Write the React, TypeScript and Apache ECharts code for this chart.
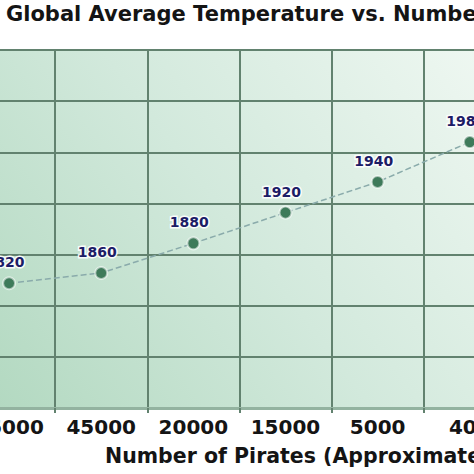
import React, { useEffect, useRef } from "react";
import * as echarts from "echarts";

const titleText = "Global Average Temperature vs. Number of Pirates";
const xAxisTitle = "Number of Pirates (Approximate)";
const pirates = ["35000", "45000", "20000", "15000", "5000", "400", "17"];
const years = ["1820", "1860", "1880", "1920", "1940", "1980", "2000"];
const temps = [14.22, 14.32, 14.61, 14.91, 15.21, 15.6, 15.9];
const yMin = 13;
const yMax = 16.5;
const yStep = 0.5;

const SHIFT = 37; // the visible window starts this far into the chart
const CHART_W = 645;

export default function App() {
  const ref = useRef<HTMLDivElement>(null);
  useEffect(() => {
    if (!ref.current) return;
    const chart = echarts.init(ref.current, null, { renderer: "svg" });
    const font = "DejaVu Sans";
    const gridColor = "#62826f";
    chart.setOption({
      animation: false,
      backgroundColor: "#ffffff",
      title: {
        text: titleText,
        left: SHIFT + 4,
        top: 0,
        padding: [3, 2],
        textStyle: { fontFamily: font, fontSize: 21, fontWeight: "bold", color: "#141414" },
      },
      grid: {
        left: 0,
        right: 0,
        top: 50,
        bottom: 66,
        show: true,
        borderWidth: 0,
        backgroundColor: new echarts.graphic.LinearGradient(SHIFT, 408, SHIFT + 474, 50, [
          { offset: 0, color: "#b3d9c1" },
          { offset: 0.5, color: "#d2e9dc" },
          { offset: 1, color: "#eef7f1" },
        ], true),
      },
      xAxis: {
        type: "category",
        data: pirates,
        boundaryGap: true,
        axisLine: { show: true, lineStyle: { color: "#93b3a0", width: 3 } },
        axisTick: { show: true, length: 5, lineStyle: { color: gridColor, width: 2 } },
        axisLabel: {
          interval: 0,
          margin: 9,
          fontFamily: font,
          fontSize: 20,
          fontWeight: "bold",
          color: "#141414",
        },
        splitLine: { show: true, interval: 0, lineStyle: { color: gridColor, width: 2 } },
      },
      yAxis: {
        type: "value",
        min: yMin,
        max: yMax,
        interval: yStep,
        axisLabel: { show: false },
        axisLine: { show: false },
        axisTick: { show: false },
        splitLine: { show: true, lineStyle: { color: gridColor, width: 2 } },
      },
      series: [
        {
          type: "line",
          data: temps,
          symbol: "circle",
          symbolSize: 12,
          itemStyle: { color: "#3e7a5a", borderColor: "rgba(255,255,255,0.55)", borderWidth: 2 },
          lineStyle: { color: "#8aabab", width: 1.5, type: "dashed" },
          label: {
            show: true,
            position: "top",
            distance: 7,
            offset: [-4, 0],
            formatter: (p: any) => years[p.dataIndex],
            fontFamily: font,
            fontSize: 14,
            fontWeight: "bold",
            color: "#1c1c66",
            textBorderColor: "rgba(255,255,255,0.9)",
            textBorderWidth: 3,
          },
        },
      ],
      graphic: [
        {
          type: "text",
          left: SHIFT + 105,
          top: 445,
          style: {
            text: xAxisTitle,
            font: `bold 20.5px "${font}"`,
            fill: "#141414",
          },
        },
      ],
    });
    return () => chart.dispose();
  }, []);
  return (
    <div
      style={{
        position: "fixed",
        left: 0,
        top: 0,
        width: 474,
        height: 474,
        overflow: "hidden",
        background: "#fff",
      }}
    >
      <div
        ref={ref}
        style={{ position: "absolute", left: -SHIFT, top: 0, width: CHART_W, height: 474 }}
      />
    </div>
  );
}
